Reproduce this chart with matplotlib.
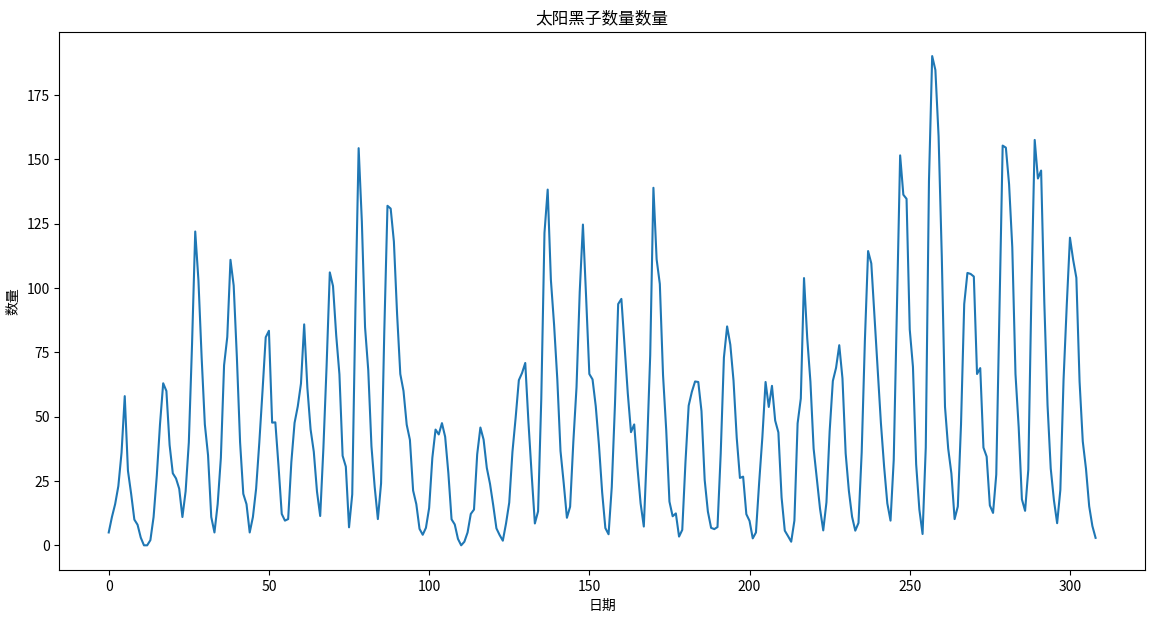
import matplotlib
matplotlib.use("Agg")
import matplotlib.pyplot as plt

plt.rcParams['font.family'] = ['Noto Sans CJK SC', 'DejaVu Sans']
plt.rcParams['axes.unicode_minus'] = False

# 太阳黑子年均数量 (1700-2008), x 轴用序号
sunspots = [
    5.0, 11.0, 16.0, 23.0, 36.0, 58.0, 29.0, 20.0, 10.0, 8.0,
    3.0, 0.0, 0.0, 2.0, 11.0, 27.0, 47.0, 63.0, 60.0, 39.0,
    28.0, 26.0, 22.0, 11.0, 21.0, 40.0, 78.0, 122.0, 103.0, 73.0,
    47.0, 35.0, 11.0, 5.0, 16.0, 34.0, 70.0, 81.0, 111.0, 101.0,
    73.0, 40.0, 20.0, 16.0, 5.0, 11.0, 22.0, 40.0, 60.0, 80.9,
    83.4, 47.7, 47.8, 30.7, 12.2, 9.6, 10.2, 32.4, 47.6, 54.0,
    62.9, 85.9, 61.2, 45.1, 36.4, 20.9, 11.4, 37.8, 69.8, 106.1,
    100.8, 81.6, 66.5, 34.8, 30.6, 7.0, 19.8, 92.5, 154.4, 125.9,
    84.8, 68.1, 38.5, 22.8, 10.2, 24.1, 82.9, 132.0, 130.9, 118.1,
    89.9, 66.6, 60.0, 46.9, 41.0, 21.3, 16.0, 6.4, 4.1, 6.8,
    14.5, 34.0, 45.0, 43.1, 47.5, 42.2, 28.1, 10.1, 8.1, 2.5,
    0.0, 1.4, 5.0, 12.2, 13.9, 35.4, 45.8, 41.1, 30.1, 23.9,
    15.6, 6.6, 4.0, 1.8, 8.5, 16.6, 36.3, 49.6, 64.2, 67.0,
    70.9, 47.8, 27.5, 8.5, 13.2, 56.9, 121.5, 138.3, 103.2, 85.7,
    64.6, 36.7, 24.2, 10.7, 15.0, 40.1, 61.5, 98.5, 124.7, 96.3,
    66.6, 64.5, 54.1, 39.0, 20.6, 6.7, 4.3, 22.7, 54.8, 93.8,
    95.8, 77.2, 59.1, 44.0, 47.0, 30.5, 16.3, 7.3, 37.6, 74.0,
    139.0, 111.2, 101.6, 66.2, 44.7, 17.0, 11.3, 12.4, 3.4, 6.0,
    32.3, 54.3, 59.7, 63.7, 63.5, 52.2, 25.4, 13.1, 6.8, 6.3,
    7.1, 35.6, 73.0, 85.1, 78.0, 64.0, 41.8, 26.2, 26.7, 12.1,
    9.5, 2.7, 5.0, 24.4, 42.0, 63.5, 53.8, 62.0, 48.5, 43.9,
    18.6, 5.7, 3.6, 1.4, 9.6, 47.4, 57.1, 103.9, 80.6, 63.6,
    37.6, 26.1, 14.2, 5.8, 16.7, 44.3, 63.9, 69.0, 77.8, 64.9,
    35.7, 21.2, 11.1, 5.7, 8.7, 36.1, 79.7, 114.4, 109.6, 88.8,
    67.8, 47.5, 30.6, 16.3, 9.6, 33.2, 92.6, 151.6, 136.3, 134.7,
    83.9, 69.4, 31.5, 13.9, 4.4, 38.0, 141.7, 190.2, 184.8, 159.0,
    112.3, 53.9, 37.6, 27.9, 10.2, 15.1, 47.0, 93.8, 105.9, 105.5,
    104.5, 66.6, 68.9, 38.0, 34.5, 15.5, 12.6, 27.5, 92.5, 155.4,
    154.6, 140.4, 115.9, 66.6, 45.9, 17.9, 13.4, 29.4, 100.2, 157.6,
    142.6, 145.7, 94.3, 54.6, 29.9, 17.5, 8.6, 21.5, 64.3, 93.3,
    119.6, 111.0, 104.0, 63.7, 40.4, 29.8, 15.2, 7.5, 2.9,
]
index = list(range(len(sunspots)))

fig, ax = plt.subplots(figsize=(11.53, 6.2), dpi=100)
fig.subplots_adjust(left=0.0515, right=0.993, top=0.949, bottom=0.081)

ax.plot(index, sunspots, color="#1f77b4", linewidth=1.5)

ax.set_title("太阳黑子数量数量")
ax.set_xlabel("日期")
ax.set_ylabel("数量")

fig.savefig("out.png", dpi=100)
